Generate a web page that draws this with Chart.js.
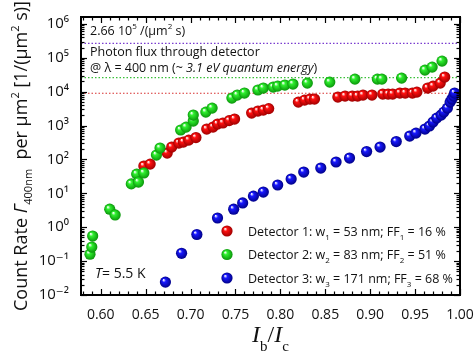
<!DOCTYPE html>
<html><head><meta charset="utf-8">
<script src="https://cdn.jsdelivr.net/npm/chart.js@4.4.1/dist/chart.umd.min.js"></script>
<style>html,body{margin:0;padding:0;background:#fff;overflow:hidden}#wrap{width:474px;height:356px}</style>
</head><body><div id="wrap"><canvas id="c" width="474" height="356"></canvas></div>
<script>
// ---------- data ----------
const det1X = [0.648,0.655,0.674,0.679,0.687,0.692,0.698,0.706,0.718,0.725,0.730,0.736,0.743,0.749,0.768,0.775,0.781,0.787,0.820,0.827,0.833,0.838,0.864,0.872,0.880,0.886,0.892,0.902,0.914,0.920,0.925,0.933,0.939,0.947,0.952,0.964,0.970,0.978,0.983];
const det1Y = [64,73,154,232,305,326,373,443,789,904,1110,1190,1400,1560,2340,2680,2870,3170,4930,5650,6050,6050,6930,7420,7420,7420,7940,7940,8500,8500,8500,9100,9100,9100,9730,12800,14600,17900,27000];
const det2X = [0.588,0.590,0.591,0.610,0.616,0.634,0.640,0.642,0.648,0.662,0.666,0.689,0.695,0.703,0.703,0.717,0.724,0.746,0.752,0.760,0.775,0.781,0.792,0.797,0.805,0.814,0.830,0.855,0.883,0.908,0.913,0.935,0.961,0.969,0.980];
const det2Y = [0.16,0.26,0.55,3.4,2.3,19,37,21.5,40,135,217,740,900,1360,2040,2500,3280,6470,7940,9100,11200,12800,13700,14600,15700,16800,17900,19200,23500,23500,23500,25200,43400,53200,80000];
const det3X = [0.672,0.690,0.707,0.730,0.748,0.758,0.770,0.781,0.797,0.812,0.826,0.845,0.862,0.877,0.896,0.911,0.929,0.944,0.951,0.961,0.966,0.970,0.974,0.979,0.982,0.986,0.989,0.991,0.993,0.994];
const det3Y = [0.024,0.17,0.61,1.87,3.4,5.2,8.3,10.9,17.6,26.4,42.5,55.7,84,110,171,232,337,490,600,790,970,1270,1660,2040,2500,3280,4930,6050,7420,9100];
const fluxLevels = [2.66e5, 2.6e4, 9.0e3];
const xTickValues = [0.60,0.65,0.70,0.75,0.80,0.85,0.90,0.95,1.00];
const yTickValues = [1e-2,1e-1,1e0,1e1,1e2,1e3,1e4,1e5,1e6];
const legendLabels = ["Detector 1: w_{1} = 53 nm; FF_{1} = 16 %","Detector 2: w_{2} = 83 nm; FF_{2} = 51 %","Detector 3: w_{3} = 171 nm; FF_{3} = 68 %"];
const annotLines = ["2.66 10^{5} /(μm^{2} s)","Photon flux through detector","@ λ = 400 nm (~ ~{3.1 eV quantum energy})"];
const tempLabel = "~{T}= 5.5 K";
const yTitle = "Count Rate ~{Γ}_{400nm}  per μm^{2} [1/(μm^{2} s)]";
const xTitle = "~{I}_{b}/~{I}_{c}";

// ---------- styling ----------
const X_MIN = 0.578, X_MAX = 1.0, Y_MIN = 0.01, Y_MAX = 1.6e6;
const FONT = '"Open Sans", "DejaVu Sans", sans-serif';
const SERIF = '"Liberation Serif", "DejaVu Serif", serif';
const R = 5.6;
const COLS = [['#ff1010','#a00000'],['#30f030','#0a960a'],['#1818ff','#000088']];
const LINECOLS = ['#7a3cd0','#38c038','#d83030'];
const SUPS = {'-':'⁻','0':'⁰','1':'¹','2':'²','3':'³','4':'⁴','5':'⁵','6':'⁶','7':'⁷','8':'⁸','9':'⁹'};

function parseRich(s){
  return s.split(/(_\{[^}]*\}|\^\{[^}]*\}|~\{[^}]*\})/).filter(p=>p!=='').map(p=>{
    if(p.startsWith('_{')) return {t:p.slice(2,-1), m:'sub'};
    if(p.startsWith('^{')) return {t:p.slice(2,-1), m:'sup'};
    if(p.startsWith('~{')) return {t:p.slice(2,-1), m:'n', it:true};
    return {t:p, m:'n'};
  });
}
function segFont(g,size,fam){ const s = g.m==='n'? size : Math.round(size*0.62); return (g.it?'italic ':'')+s+'px '+fam; }
function drawRich(ctx,str,x,y,size,fam,align,subOff){
  const segs=parseRich(str); let w=0;
  for(const g of segs){ ctx.font=segFont(g,size,fam); w+=ctx.measureText(g.t).width; }
  let cx = align==='center'? x-w/2 : align==='right'? x-w : x;
  ctx.textAlign='left'; ctx.textBaseline='alphabetic';
  for(const g of segs){
    ctx.font=segFont(g,size,fam);
    const dy = g.m==='sub'? size*(subOff||0.3) : g.m==='sup'? -size*0.45 : 0;
    ctx.fillText(g.t,cx,y+dy); cx+=ctx.measureText(g.t).width;
  }
  return w;
}
function sphereFill(ctx,x,y,r,col){
  if(!Number.isFinite(x)||!Number.isFinite(y)) return col[0];
  const g=ctx.createRadialGradient(x-r*0.35,y-r*0.4,r*0.05,x,y,r);
  g.addColorStop(0,'#ffffff'); g.addColorStop(0.3,col[0]); g.addColorStop(1,col[1]); return g;
}
function pointBg(col){
  return (c)=>{
    if(c.type!=='data'||!c.raw) return col[0];
    const ch=c.chart, xs=ch.scales&&ch.scales.x, ys=ch.scales&&ch.scales.y;
    if(!xs||!ys||!ch.chartArea) return col[0];
    return sphereFill(ch.ctx, xs.getPixelForValue(c.raw.x), ys.getPixelForValue(c.raw.y), R, col);
  };
}
const toPts = (xs,ys)=>xs.map((x,i)=>({x:x,y:ys[i]}));
const detData = [toPts(det1X,det1Y), toPts(det2X,det2Y), toPts(det3X,det3Y)];

const datasets = [];
fluxLevels.forEach((v,i)=>datasets.push({
  label:'level'+i, data:[{x:X_MIN,y:v},{x:X_MAX,y:v}], showLine:true, borderColor:LINECOLS[i],
  borderWidth:1.2, borderDash:[1.5,2], pointRadius:0, fill:false, order:10
}));
detData.forEach((d,i)=>datasets.push({
  label:legendLabels[i].replace(/[_^~]\{([^}]*)\}/g,'$1'), data:d, showLine:false,
  pointRadius:R, pointHoverRadius:R, pointBorderWidth:0, pointBackgroundColor:pointBg(COLS[i]), order:3-i
}));

const decor = {
  id:'decor',
  afterDraw(chart){
    const {ctx, chartArea:a, scales:{x,y}} = chart;
    ctx.save();
    ctx.strokeStyle='#000'; ctx.lineWidth=1.2;
    const seg=(x1,y1,x2,y2)=>{ctx.beginPath();ctx.moveTo(x1,y1);ctx.lineTo(x2,y2);ctx.stroke();};
    for(let k=58;k<=100;k++){
      const px=Math.round(x.getPixelForValue(k/100))+0.5, L=(k%5===0)?6:3.5;
      seg(px,a.bottom,px,a.bottom-L); seg(px,a.top,px,a.top+L);
    }
    for(let n=-2;n<=6;n++) for(let k=1;k<=9;k++){
      const v=k*Math.pow(10,n); if(v<Y_MIN*0.999||v>Y_MAX) continue;
      const py=Math.round(y.getPixelForValue(v))+0.5, L=(k===1)?6:3.5;
      seg(a.left,py,a.left+L,py); seg(a.right,py,a.right-L,py);
    }
    ctx.lineWidth=2; ctx.strokeRect(a.left,a.top,a.right-a.left,a.bottom-a.top);
    ctx.fillStyle='#111';
    drawRich(ctx,annotLines[0],a.left+9,a.top+18,12.5,FONT,'left');
    drawRich(ctx,annotLines[1],a.left+9,a.top+39,12.5,FONT,'left');
    drawRich(ctx,annotLines[2],a.left+9,a.top+55,12.5,FONT,'left');
    drawRich(ctx,tempLabel,a.left+14,a.bottom-17,14,FONT,'left');
    legendLabels.forEach((t,i)=>{
      const cy=a.bottom-64+i*23.5, cx=a.left+146;
      ctx.beginPath(); ctx.arc(cx,cy,R,0,Math.PI*2); ctx.fillStyle=sphereFill(ctx,cx,cy,R,COLS[i]); ctx.fill();
      ctx.fillStyle='#111';
      drawRich(ctx,t,a.left+167,cy+4.5,12.5,FONT,'left',0.35);
    });
    drawRich(ctx,xTitle,(a.left+a.right)/2,a.bottom+47,24,SERIF,'center',0.38);
    ctx.translate(20,(a.top+a.bottom)/2); ctx.rotate(-Math.PI/2);
    drawRich(ctx,yTitle,0,7,18,FONT,'center',0.3);
    ctx.restore();
  }
};

new Chart(document.getElementById('c'),{
  type:'scatter',
  data:{datasets:datasets},
  options:{
    responsive:false, animation:false, devicePixelRatio:1,
    layout:{padding:{top:17,right:14,left:0,bottom:0}},
    plugins:{legend:{display:false}, tooltip:{enabled:false}},
    scales:{
      x:{type:'linear', min:X_MIN, max:X_MAX,
         grid:{display:false}, border:{display:false},
         afterBuildTicks:(s)=>{s.ticks=xTickValues.map(v=>({value:v}));},
         afterFit:(s)=>{s.height=61; s.paddingLeft=0; s.paddingRight=0;},
         ticks:{padding:4, maxRotation:0, autoSkip:false, color:'#111', font:{family:FONT,size:14},
                callback:(v)=>Number(v).toFixed(2)}},
      y:{type:'logarithmic', min:Y_MIN, max:Y_MAX,
         grid:{display:false}, border:{display:false},
         afterBuildTicks:(s)=>{s.ticks=yTickValues.map(v=>({value:v, major:true}));},
         afterFit:(s)=>{s.width=81; s.paddingTop=0; s.paddingBottom=0;},
         ticks:{padding:4, autoSkip:false, color:'#111', font:{family:FONT,size:15},
                callback:(v)=>'10'+String(Math.round(Math.log10(v))).split('').map(ch=>SUPS[ch]).join('')}}
    }
  },
  plugins:[decor]
});
</script></body></html>
